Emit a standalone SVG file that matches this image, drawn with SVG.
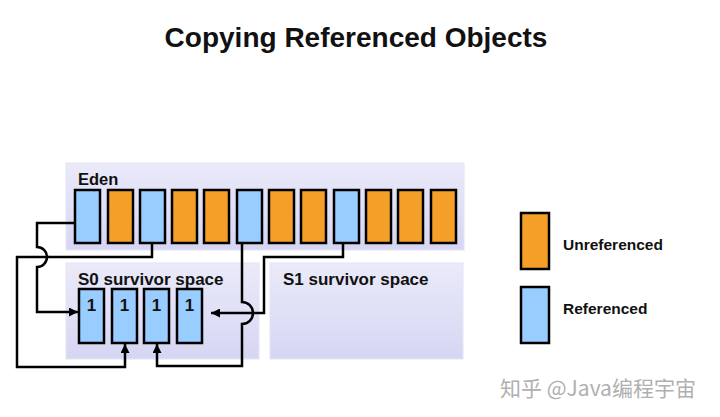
<svg xmlns="http://www.w3.org/2000/svg" width="720" height="417" viewBox="0 0 720 417">
<defs>
<linearGradient id="pg" x1="0" y1="0" x2="0" y2="1">
<stop offset="0" stop-color="#EAEAFA"/>
<stop offset="1" stop-color="#D6D6F3"/>
</linearGradient>
<marker id="ah" viewBox="0 0 10 10" refX="10" refY="5" markerWidth="9" markerHeight="9" markerUnits="userSpaceOnUse" orient="auto">
<path d="M0,0 L10,5 L0,10 z" fill="#000"/>
</marker>
</defs>
<style>
.panel{fill:url(#pg);stroke:#E4E4F6;stroke-width:1}
.o{fill:#F4A028;stroke:#000;stroke-width:2.5}
.b{fill:#99CCFF;stroke:#000;stroke-width:2.5}
.lbl{font-family:"Liberation Sans",Arial,sans-serif;font-weight:bold;fill:#111}
.c{fill:none;stroke:#000;stroke-width:2.5}
</style>
<rect width="720" height="417" fill="#fff"/>
<text x="356" y="47" text-anchor="middle" class="lbl" font-size="28">Copying Referenced Objects</text>

<g id="eden">
<rect class="panel" x="66" y="163" width="398" height="87"/>
<text class="lbl" x="78" y="185" font-size="16.5">Eden</text>
</g>
<g id="s0">
<rect class="panel" x="66" y="263" width="193" height="96"/>
<text class="lbl" x="78" y="285" font-size="17">S0 survivor space</text>
</g>
<g id="s1">
<rect class="panel" x="270" y="263" width="193" height="96"/>
<text class="lbl" x="283" y="285" font-size="17">S1 survivor space</text>
</g>

<g id="eden-objects">
<g id="e1"><rect class="b" x="75" y="190" width="25" height="53"/></g>
<g id="e2"><rect class="o" x="108" y="190" width="25" height="53"/></g>
<g id="e3"><rect class="b" x="140" y="190" width="25" height="53"/></g>
<g id="e4"><rect class="o" x="172" y="190" width="25" height="53"/></g>
<g id="e5"><rect class="o" x="204" y="190" width="25" height="53"/></g>
<g id="e6"><rect class="b" x="237" y="190" width="25" height="53"/></g>
<g id="e7"><rect class="o" x="269" y="190" width="25" height="53"/></g>
<g id="e8"><rect class="o" x="301" y="190" width="25" height="53"/></g>
<g id="e9"><rect class="b" x="334" y="190" width="25" height="53"/></g>
<g id="e10"><rect class="o" x="366" y="190" width="25" height="53"/></g>
<g id="e11"><rect class="o" x="398" y="190" width="25" height="53"/></g>
<g id="e12"><rect class="o" x="431" y="190" width="25" height="53"/></g>
</g>

<g id="s0-objects">
<g id="s0a"><rect class="b" x="79" y="289" width="25" height="54"/><text class="lbl" x="91.5" y="311" font-size="17" text-anchor="middle">1</text></g>
<g id="s0b"><rect class="b" x="112" y="289" width="25" height="54"/><text class="lbl" x="124.5" y="311" font-size="17" text-anchor="middle">1</text></g>
<g id="s0c"><rect class="b" x="144" y="289" width="25" height="54"/><text class="lbl" x="156.5" y="311" font-size="17" text-anchor="middle">1</text></g>
<g id="s0d"><rect class="b" x="177" y="289" width="25" height="54"/><text class="lbl" x="189.5" y="311" font-size="17" text-anchor="middle">1</text></g>
</g>

<g id="connectors">
<path class="c" d="M75,223 H37 V247 A10,10 0 0 1 37,267 V312 H78" marker-end="url(#ah)"/>
<path class="c" d="M152,243 V257 H17 V367 H125 V344" marker-end="url(#ah)"/>
<path class="c" d="M242,243 V302 A11,11 0 0 1 242,324 V366 H157 V344" marker-end="url(#ah)"/>
<path class="c" d="M343,243 V257 H264 V313 H211" marker-end="url(#ah)"/>
</g>

<g id="legend-unref">
<rect class="o" x="521" y="213" width="28" height="56"/>
<text class="lbl" x="563" y="250" font-size="15.5">Unreferenced</text>
</g>
<g id="legend-ref">
<rect class="b" x="521" y="287" width="28" height="56"/>
<text class="lbl" x="563" y="314" font-size="15.5">Referenced</text>
</g>

<text x="500" y="396" font-family="'Noto Sans CJK SC','Liberation Sans',sans-serif" font-size="21" fill="#B0B0B0">知乎 @Java编程宇宙</text>
</svg>
